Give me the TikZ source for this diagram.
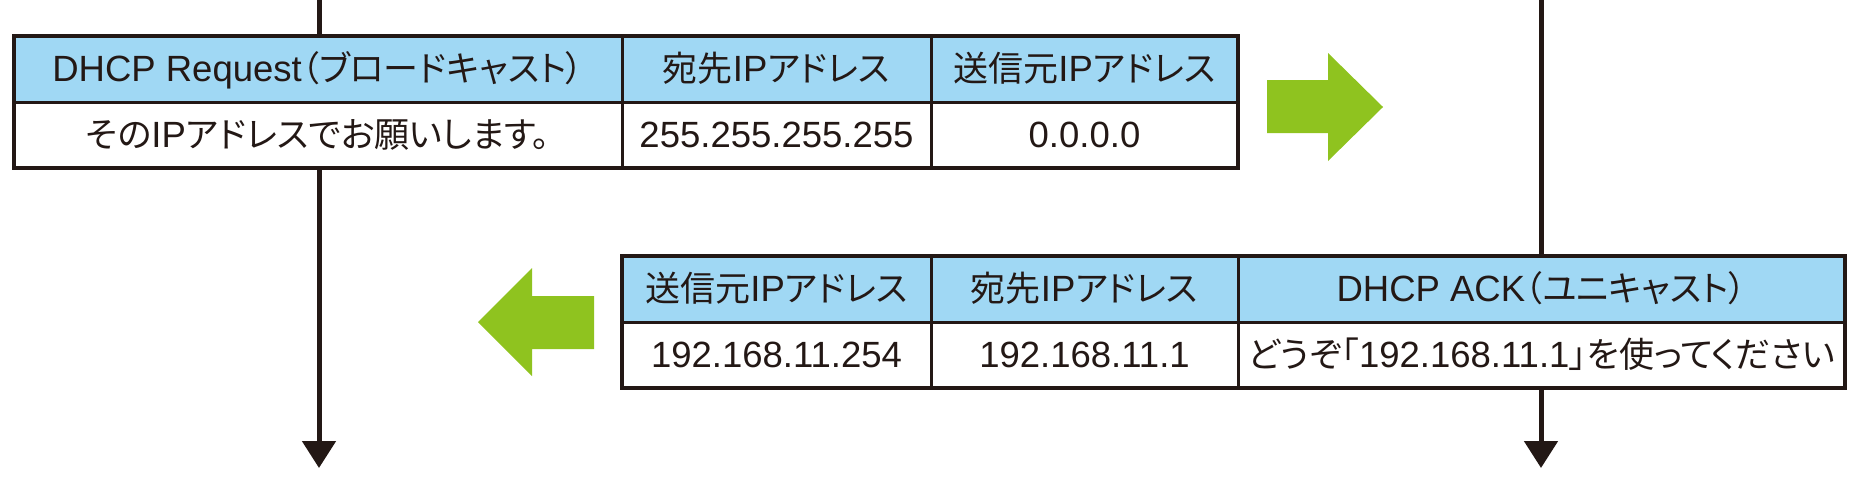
\documentclass[tikz,border=0pt]{standalone}
\usepackage{fontspec}
\setmainfont{Liberation Sans}
\newfontfamily\jp[RawFeature=+palt]{Noto Sans CJK JP}
\usetikzlibrary{arrows.meta}
\definecolor{ink}{HTML}{231815}
\definecolor{hblue}{HTML}{A0D8F4}
\definecolor{agreen}{HTML}{8FC31F}
\newcommand{\J}[1]{{\fontsize{35}{40}\selectfont\jp #1}}
\tikzset{
  cellbox/.style={draw=ink, line width=3pt, inner sep=0pt, outer sep=0pt,
    minimum height=66pt, text=ink, text height=25pt, text depth=0pt,
    font=\fontsize{36.5}{40}\selectfont},
  hdr/.style={cellbox, fill=hblue},
  body/.style={cellbox, fill=white},
  frame/.style={draw=ink, line width=4.5pt},
  flow/.style={draw=ink, line width=5pt, -{Triangle[width=33pt,length=27pt]}},
  bigarrow/.style={fill=agreen}
}
\begin{document}
\begin{tikzpicture}[x=1pt,y=-1pt]
\useasboundingbox (0,0) rectangle (1868,488);
% flow lines
\coordinate (ltop) at (319,0);
\coordinate (lend) at (319,468);
\coordinate (rtop) at (1541,0);
\coordinate (rend) at (1541,468);
\draw[flow] (ltop) -- (lend);
\draw[flow] (rtop) -- (rend);
% top table
\node[hdr, minimum width=608pt] (ta) at (318,69) {DHCP Request\J{（ブロードキャスト）}};
\node[hdr, minimum width=309pt] (tb) at (776.5,69) {\J{宛先}IP\J{アドレス}};
\node[hdr, minimum width=307pt] (tc) at (1084.5,69) {\J{送信元}IP\J{アドレス}};
\node[body, minimum width=608pt] (tA) at (318,135) {\J{その}IP\J{アドレスでお願いします。}};
\node[body, minimum width=309pt] (tB) at (776.5,135) {255.255.255.255};
\node[body, minimum width=307pt] (tC) at (1084.5,135) {0.0.0.0};
\draw[frame] (ta.north west) rectangle (tC.south east);
% bottom table
\node[hdr, minimum width=309pt] (ba) at (776.5,289) {\J{送信元}IP\J{アドレス}};
\node[hdr, minimum width=307pt] (bb) at (1084.5,289) {\J{宛先}IP\J{アドレス}};
\node[hdr, minimum width=607pt] (bc) at (1541.5,289) {DHCP ACK\J{（ユニキャスト）}};
\node[body, minimum width=309pt] (bA) at (776.5,355) {192.168.11.254};
\node[body, minimum width=307pt] (bB) at (1084.5,355) {192.168.11.1};
\node[body, minimum width=607pt] (bC) at (1541.5,355) {\J{どうぞ「}192.168.11.1\J{」を使ってください}};
\draw[frame] (ba.north west) rectangle (bC.south east);
% green arrows
\fill[bigarrow] (1267,80) -- (1328,80) -- (1328,53) -- (1383,107) -- (1328,161) -- (1328,133) -- (1267,133) -- cycle;
\fill[bigarrow] (594,296) -- (532,296) -- (532,268) -- (478,322) -- (532,376) -- (532,349) -- (594,349) -- cycle;
\end{tikzpicture}
\end{document}
